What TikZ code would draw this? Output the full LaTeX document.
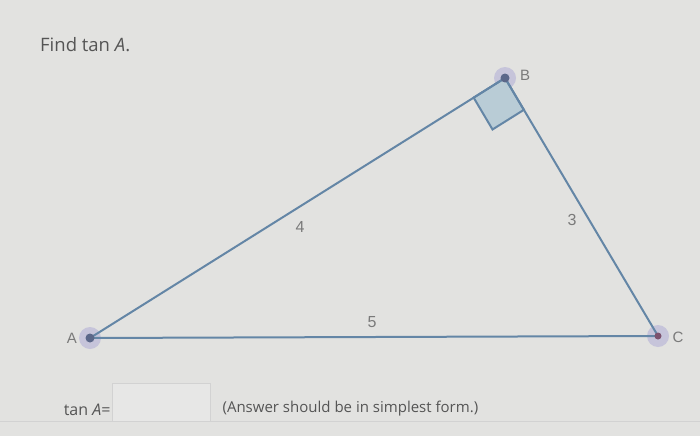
\documentclass[tikz,border=0pt]{standalone}
\usepackage{fontspec}
\setmainfont{Open Sans}
\newfontfamily\labfont{Liberation Sans}
\usetikzlibrary{positioning,calc}
\definecolor{screen}{HTML}{E2E2E0}
\definecolor{edgec}{HTML}{6486A6}
\definecolor{halo}{HTML}{C6C4DA}
\definecolor{dotc}{HTML}{5B6789}
\definecolor{txt}{HTML}{555555}
\definecolor{lbl}{HTML}{7A7A7A}
\definecolor{sqfill}{HTML}{B9CCD6}
\definecolor{boxc}{HTML}{D2D2D2}
\definecolor{boxin}{HTML}{E7E7E6}

\begin{document}
\begin{tikzpicture}[x=1pt,y=-1pt]
\tikzstyle{vert}=[circle,fill=halo,minimum size=22pt,inner sep=0pt]
\tikzstyle{side}=[draw=edgec,line width=2pt]
\tikzstyle{vlab}=[text=lbl,font=\labfont\fontsize{15}{15}\selectfont,inner sep=0pt]
\tikzstyle{plain}=[text=txt,font=\fontsize{16}{18}\selectfont,inner sep=0pt]
% screen
\fill[screen] (0,0) rectangle (700,436);
\useasboundingbox (0,0) rectangle (700,436);
\node[plain,anchor=west,font=\fontsize{18.5}{20}\selectfont] (title) at (40,45) {Find tan \textit{A}.};
% vertices
\node[vert] (A) at (90,338) {};
\node[vert] (B) at (505,78) {};
\node[vert] (C) at (658,336) {};
% right angle mark
\coordinate (ba) at ($(B.center)!37pt!(A.center)$);
\coordinate (bc) at ($(B.center)!37pt!(C.center)$);
\filldraw[fill=sqfill,side] (B.center) -- (ba) -- ($(ba)+(bc)-(B.center)$) -- (bc) -- cycle;
% sides
\draw[side] (A.center) -- (B.center);
\draw[side] (B.center) -- (C.center);
\draw[side] (A.center) -- (C.center);
\fill[dotc] (A) circle (4.5pt);
\fill[dotc] (B) circle (4.5pt);
\fill[dotc!80!red] (C) circle (3.5pt);
\node[vlab] (labA) at (72,338) {A};
\node[vlab] (labB) at (525,75) {B};
\node[vlab] (labC) at (678,337) {C};
\node[vlab,font=\labfont\fontsize{16}{16}\selectfont] (s4) at (300,227) {4};
\node[vlab,font=\labfont\fontsize{16}{16}\selectfont] (s3) at (572,220) {3};
\node[vlab,font=\labfont\fontsize{16}{16}\selectfont] (s5) at (372,322) {5};
% answer line
\draw[boxc,line width=0.6pt] (0,421) -- (700,421);
\node[draw=boxc,fill=boxin,line width=0.8pt,minimum width=98pt,minimum height=38pt,inner sep=0pt] (ansbox) at (161,402) {};
\node[plain,anchor=east] (tanlbl) at ([xshift=-1pt,yshift=-8pt]ansbox.west) {tan \textit{A}=};
\node[plain,anchor=west,font=\fontsize{15}{17}\selectfont] (hint) at ([xshift=12pt,yshift=-7pt]ansbox.east) {(Answer should be in simplest form.)};
\end{tikzpicture}
\end{document}
